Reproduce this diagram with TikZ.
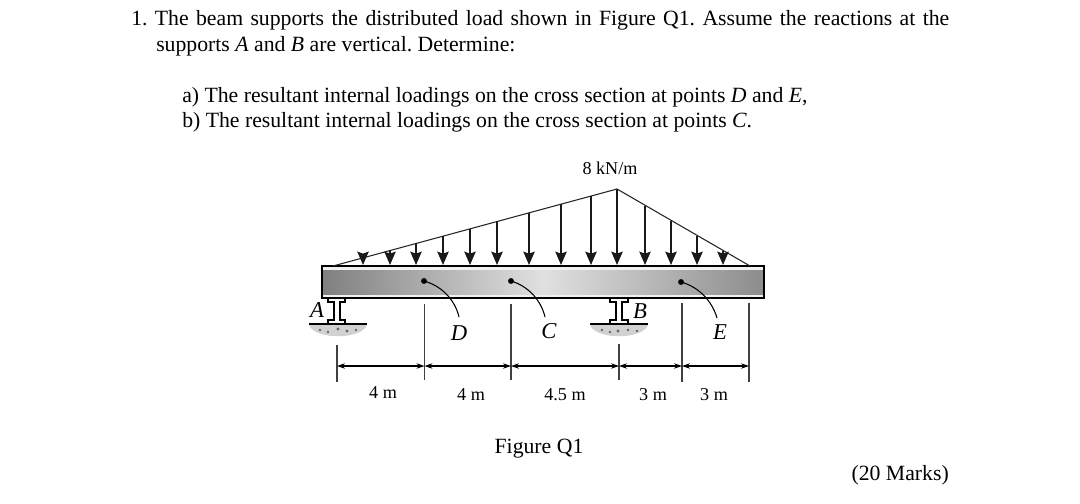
\documentclass[tikz,border=0pt]{standalone}
\usepackage{fontspec}
\setmainfont{Liberation Serif}
\usetikzlibrary{arrows.meta}
\tikzset {>=Stealth}
\tikzset{
  para/.style={anchor=base west,inner sep=0pt,font=\fontsize{16.3}{18}\selectfont},
  figlabel/.style={inner sep=0pt,font=\fontsize{13.6}{15}\selectfont},
  letter/.style={inner sep=0pt,font=\fontsize{17}{19}\itshape},
  load/.style={line width=1.3pt,black!90,-{Stealth[length=10pt,width=8.5pt,inset=1.5pt]}},
  dim/.style={line width=.8pt,{Stealth[length=6pt,width=4pt]}-{Stealth[length=6pt,width=4pt]}},
  ext/.style={line width=.8pt,black!75},
  pointer/.style={line width=.8pt},
  section/.style={line width=.8pt,fill=white},
  ground/.style={black!18},
  speck/.style={black!60}
}
\frenchspacing
\begin{document}
\begin{tikzpicture}[x=.75pt,y=-.75pt]
\useasboundingbox (0,0) rectangle (1080,503);

% Question text
\node[para] (line1) at (131,26) {\hbox to 613.5pt{1. The beam supports the distributed load shown in Figure Q1. Assume the reactions at the}};
\node[para] (line2) at (156,52) {supports \textit{A} and \textit{B} are vertical. Determine:};
\node[para] (parta) at (182,102) {a) The resultant internal loadings on the cross section at points \textit{D} and \textit{E},};
\node[para] (partb) at (182,127.5) {b) The resultant internal loadings on the cross section at points \textit{C}.};

% Beam
\coordinate (beam-nw) at (322,266);
\coordinate (beam-se) at (764,298);
\fill[black!6] (beam-nw) rectangle (beam-se);
\shade[left color=black!50,right color=black!45,middle color=black!12] (322,270) rectangle (764,294);
\draw[line width=1pt] (beam-nw) rectangle (beam-se);

% Distributed load
\coordinate (load-a) at (333,266);
\coordinate (peak) at (617,189);
\coordinate (load-b) at (750,266);
\draw[line width=.8pt,black!85] (load-a) -- (peak) -- (load-b);
\node[figlabel] (intensity) at (610,168) {8 kN/m};

\draw[load] (363,258) -- (363,265);
\draw[load] (390,250) -- (390,265);
\draw[load] (416,243) -- (416,265);
\draw[load] (443,236) -- (443,265);
\draw[load] (470,229) -- (470,265);
\draw[load] (497,221) -- (497,265);
\draw[load] (529,213) -- (529,265);
\draw[load] (561,204) -- (561,265);
\draw[load] (591,196) -- (591,265);
\draw[load] (617,189) -- (617,265);
\draw[load] (645,206) -- (645,265);
\draw[load] (671,221) -- (671,265);
\draw[load] (697,236) -- (697,265);
\draw[load] (723,251) -- (723,265);

% Support at A
\fill[ground] (309,325) .. controls (315,340) and (361,340) .. (367,325) -- cycle;
\fill[speck] (320,330) circle (1pt) (328,332) circle (1pt) (338,329) circle (1.2pt) (347,331) circle (1.2pt) (356,330) circle (1pt);
\draw[section] (328,298) -- (345,298) -- (345,302) -- (340,302) -- (340,320) -- (345,320) -- (345,324)
  -- (328,324) -- (328,320) -- (334,320) -- (334,302) -- (328,302) -- cycle;
\draw[line width=.8pt] (309,324) -- (367,324);
\node[letter] (A) at (317,310) {A};

% Support at B
\fill[ground] (590,325) .. controls (596,340) and (642,340) .. (648,325) -- cycle;
\fill[speck] (602,330) circle (1pt) (610,332) circle (1pt) (618,331) circle (1.2pt) (628,330) circle (1pt) (637,331) circle (1pt);
\draw[section] (610,298) -- (628,298) -- (628,302) -- (622,302) -- (622,320) -- (628,320) -- (628,324)
  -- (610,324) -- (610,320) -- (616,320) -- (616,302) -- (610,302) -- cycle;
\draw[line width=.8pt] (590,324) -- (648,324);
\node[letter] (B) at (640,311) {B};

% Section points and leaders
\coordinate (d-dot) at (424,281);
\coordinate (c-dot) at (511,281);
\coordinate (e-dot) at (681,282);
\fill (d-dot) circle (2.2pt);
\fill (c-dot) circle (2.2pt);
\fill (e-dot) circle (2.2pt);
\draw[pointer] (d-dot) .. controls (442,286) and (455,300) .. (459,317);
\draw[pointer] (c-dot) .. controls (528,286) and (541,300) .. (545,317);
\draw[pointer] (e-dot) .. controls (699,287) and (712,301) .. (717,318);
\node[letter] (D) at (459,333) {D};
\node[letter] (C) at (549,331) {C};
\node[letter] (E) at (720,332) {E};

% Dimension lines
\coordinate (x0) at (337,366);
\coordinate (x1) at (424.5,366);
\coordinate (x2) at (511,366);
\coordinate (x3) at (619,366);
\coordinate (x4) at (682,366);
\coordinate (x5) at (749,366);
\draw[ext] (337,345) -- (337,382);
\draw[ext] (424.5,304) -- (424.5,380);
\draw[ext] (511,304) -- (511,380);
\draw[ext] (619,344) -- (619,380);
\draw[ext] (682,303) -- (682,382);
\draw[ext] (749,303) -- (749,382);
\draw[dim] (x0) -- (x1);
\draw[dim] (x1) -- (x2);
\draw[dim] (x2) -- (x3);
\draw[dim] (x3) -- (x4);
\draw[dim] (x4) -- (x5);
\node[figlabel] (dim1) at (383,392.5) {4 m};
\node[figlabel] (dim2) at (471,394.5) {4 m};
\node[figlabel] (dim3) at (565,394.5) {4.5 m};
\node[figlabel] (dim4) at (653,394.5) {3 m};
\node[figlabel] (dim5) at (714,394.5) {3 m};

% Caption and marks
\node[inner sep=0pt,font=\fontsize{16.3}{18}\selectfont] (caption) at (539,449) {Figure Q1};
\node[inner sep=0pt,anchor=east,font=\fontsize{16.3}{18}\selectfont] (marks) at (949,475) {(20 Marks)};

\end{tikzpicture}
\end{document}
